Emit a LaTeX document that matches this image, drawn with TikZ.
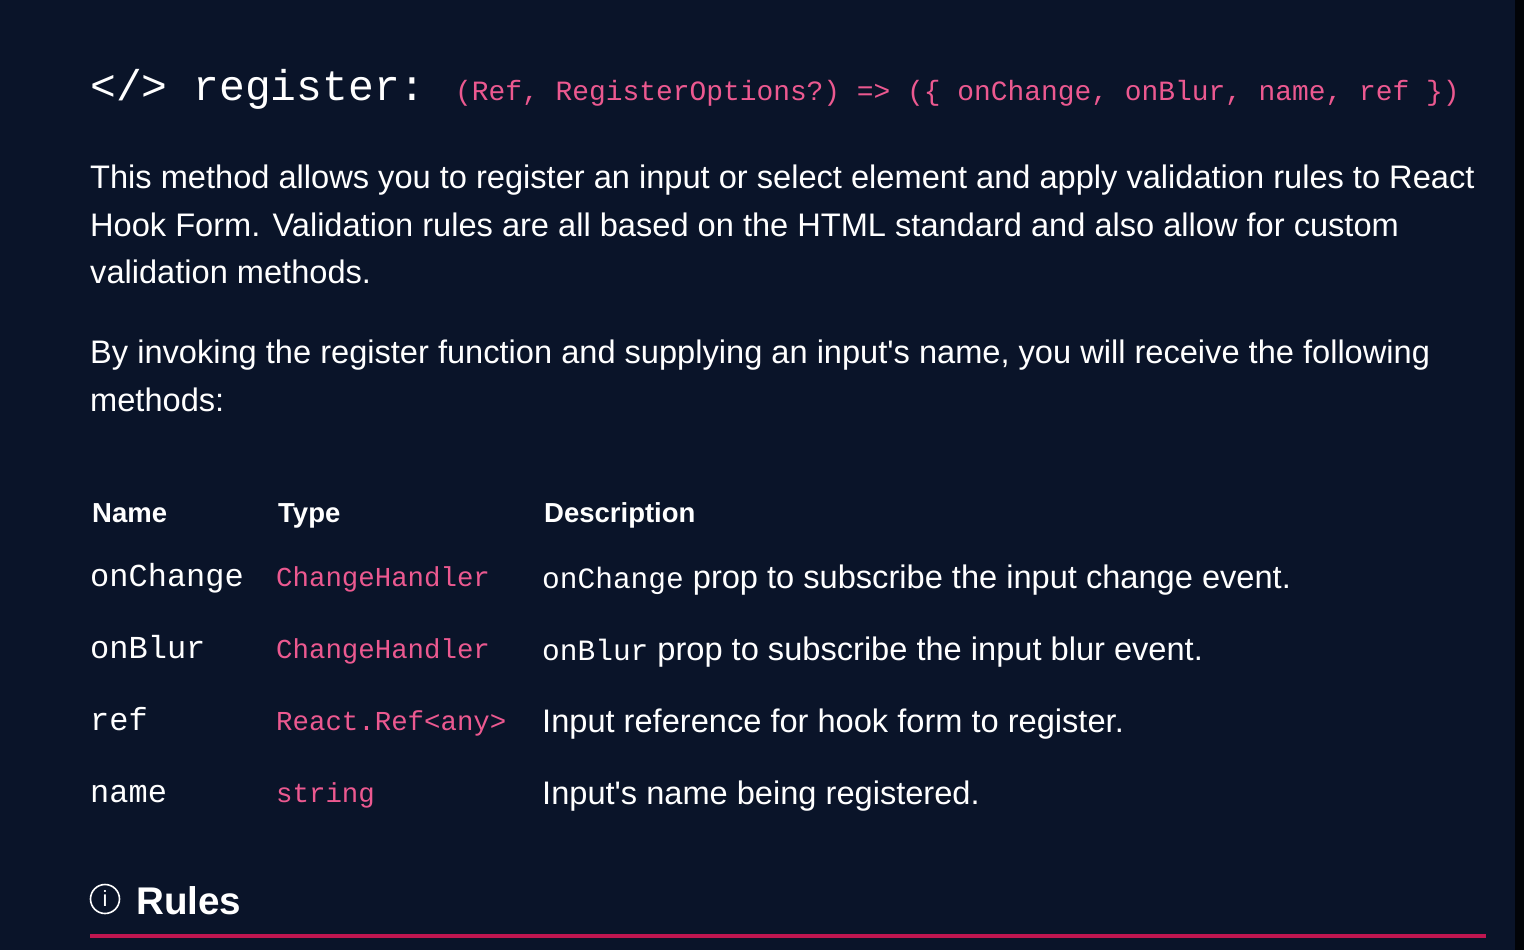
\documentclass[tikz,border=0pt]{standalone}
\usepackage{fontspec}
\setmainfont{Liberation Sans}[Ligatures=TeXOff]
\setmonofont{Liberation Mono}
\definecolor{bgnavy}{HTML}{0A1429}
\definecolor{codepink}{HTML}{EC5990}
\definecolor{rulered}{HTML}{BF1650}
\tikzset{
  txt/.style={anchor=base west, inner sep=0pt, text=white, font=\fontsize{32.6}{48}\selectfont},
  hdr/.style={txt, font=\fontsize{27.5}{32}\selectfont\bfseries},
  mono/.style={txt, font=\fontsize{32}{36}\selectfont\ttfamily},
  pink/.style={txt, text=codepink, font=\fontsize{27.4}{32}\selectfont\ttfamily}
}
\begin{document}
\begin{tikzpicture}[x=1pt, y=-1pt]

% Background
\fill[bgnavy] (0,0) rectangle (1524,950);
\fill[black!80!bgnavy] (1515,0) rectangle (1524,950);

% Title
\node[txt, font=\fontsize{43}{46}\selectfont\ttfamily] (title) at (90,100) {</> register:};
\node[pink, font=\fontsize{27.9}{30}\selectfont\ttfamily] (sig) at (455,100) {(Ref, RegisterOptions?) => (\{ onChange, onBlur, name, ref \})};

% Paragraphs
\node[txt] (p1a) at (90,188) {This method allows you to register an input or select element and apply validation rules to React};
\node[txt] (p1b) at (90,236) {Hook Form. Validation rules are all based on the HTML standard and also allow for custom};
\node[txt] (p1c) at (90,283) {validation methods.};
\node[txt] (p2a) at (90,363) {By invoking the register function and supplying an input's name, you will receive the following};
\node[txt] (p2b) at (90,411) {methods:};

% Table header
\node[hdr] (hname) at (92,522) {Name};
\node[hdr] (htype) at (278,522) {Type};
\node[hdr] (hdesc) at (544,522) {Description};

% Rows
\node[mono] (r1n) at (90,586) {onChange};
\node[pink] (r1t) at (276,586) {ChangeHandler};
\node[txt] (r1d) at (542,588) {{\fontsize{29.5}{32}\selectfont\ttfamily onChange} prop to subscribe the input change event.};
\node[mono] (r2n) at (90,658) {onBlur};
\node[pink] (r2t) at (276,658) {ChangeHandler};
\node[txt] (r2d) at (542,660) {{\fontsize{29.5}{32}\selectfont\ttfamily onBlur} prop to subscribe the input blur event.};
\node[mono] (r3n) at (90,730) {ref};
\node[pink] (r3t) at (276,730) {React.Ref<any>};
\node[txt] (r3d) at (542,732) {Input reference for hook form to register.};
\node[mono] (r4n) at (90,802) {name};
\node[pink] (r4t) at (276,802) {string};
\node[txt] (r4d) at (542,804) {Input's name being registered.};

% Rules heading
\node[draw=white, line width=1.6, circle, minimum size=29, inner sep=0pt, text=white,
      font=\fontsize{22}{24}\selectfont] (info) at (105,899) {i};
\node[txt, font=\fontsize{38.6}{42}\selectfont\bfseries] (rules) at (136,914) {Rules};
\draw[rulered, line width=4] (90,936) -- (1486,936);

\end{tikzpicture}
\end{document}
